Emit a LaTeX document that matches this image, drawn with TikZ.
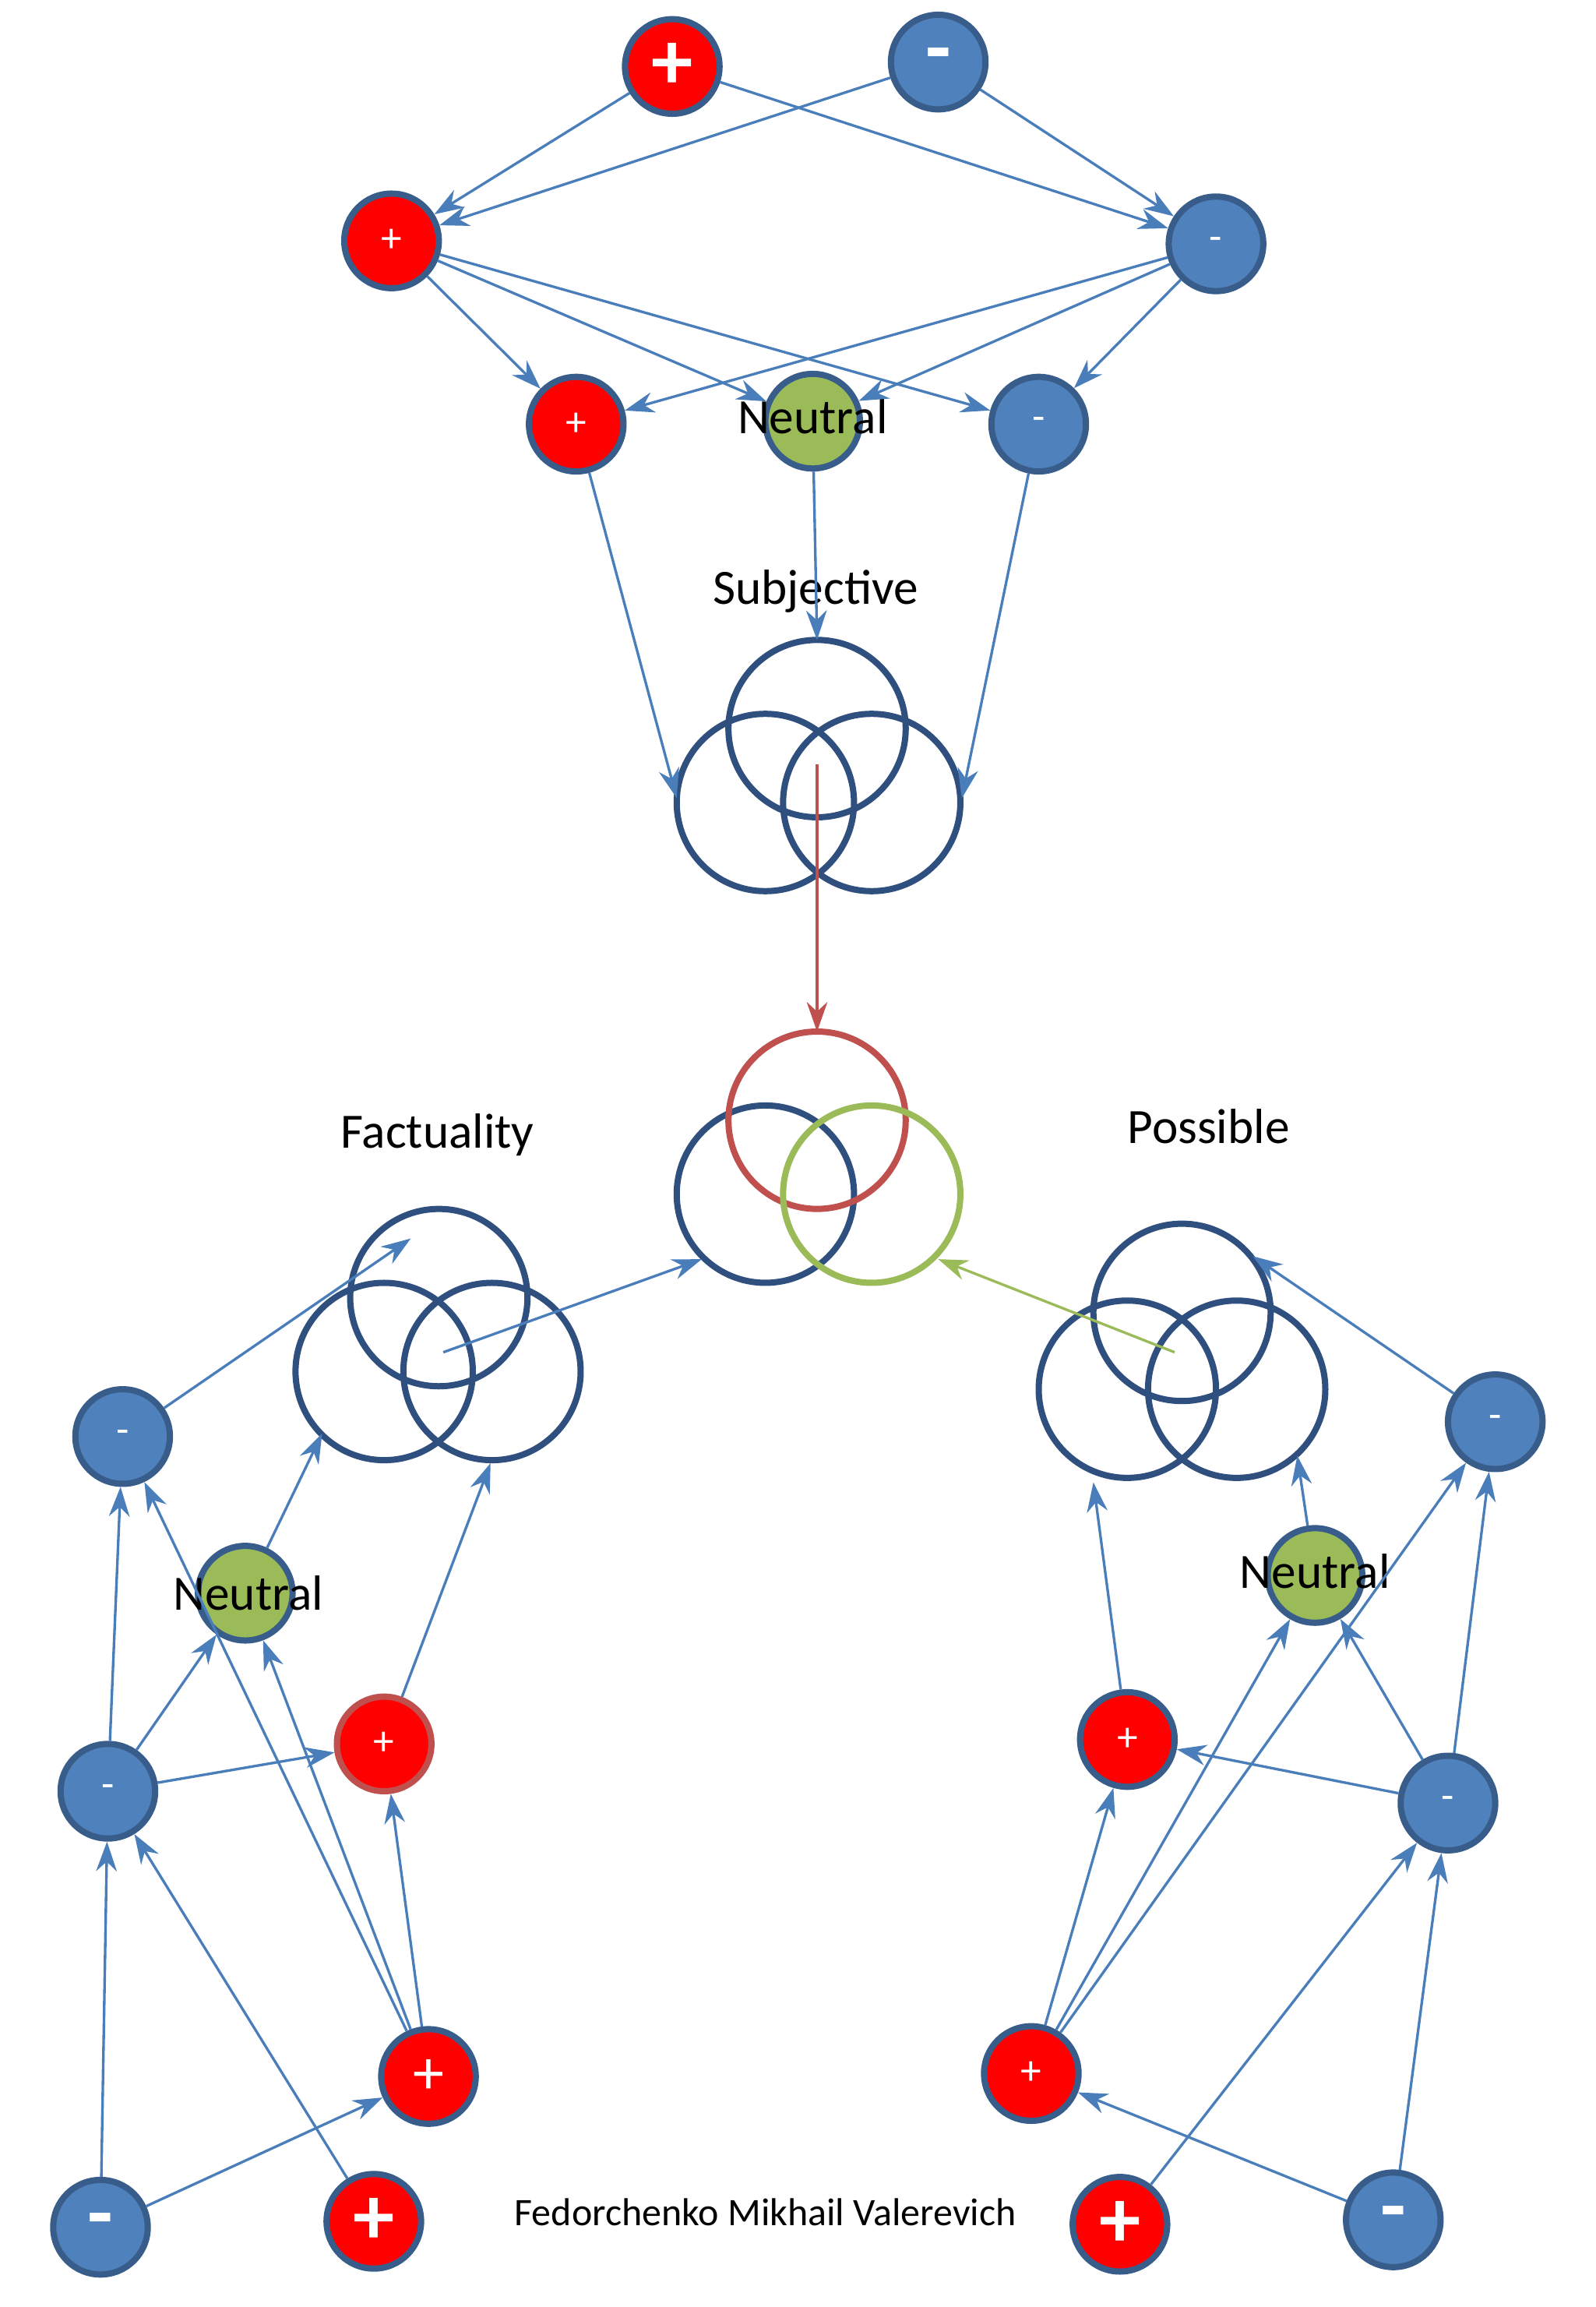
\documentclass[tikz,border=0pt]{standalone}
\usepackage{fontspec}
\setmainfont{Carlito}
\usetikzlibrary{arrows.meta}
\definecolor{bfill}{HTML}{4F81BD}
\definecolor{bline}{HTML}{385D8A}
\definecolor{gfill}{HTML}{9BBB59}
\definecolor{eline}{HTML}{4A7EBB}
\definecolor{vline}{HTML}{2F4F7F}
\definecolor{rline}{HTML}{C0504D}
\begin{document}
\begin{tikzpicture}[x=0.1mm,y=-0.1mm,
 base/.style={circle,draw=bline,line width=1.2pt,minimum size=6.4mm,inner sep=0pt,text=white,font=\fontsize{8}{9}\selectfont},
 pnode/.style={base,fill=red},
 mnode/.style={base,fill=bfill},
 nnode/.style={base,fill=gfill},
 big/.style={font=\bfseries\fontsize{16}{16}\selectfont},
 lab/.style={font=\fontsize{9.5}{11}\selectfont,text=black},
 ven/.style={draw=vline,line width=1.2pt},
 e/.style={draw=eline,line width=0.5pt,-{Stealth[length=2mm,width=1.4mm]}}]
\useasboundingbox (0,0) rectangle (1080,1561);
% top
\node[pnode,big] (P0) at (455,45) {+};
\node[mnode,big] (M0) at (635,42) {-};
\node[pnode] (P1) at (265,163) {+};
\node[mnode] (M1) at (823,165) {-};
\node[pnode] (P2) at (390,287) {+};
\node[nnode] (N2) at (550,285) {};
\node[mnode] (M2) at (703,287) {-};
\node[lab] (tN2) at (550,282) {Neutral};
\node[lab] (tS) at (552,400) {Subjective};
% venn S
\draw[ven] (553,493) circle (60) (518,543) circle (60) (590,543) circle (60);
\coordinate (Sl) at (458,540); \coordinate (St) at (553,433); \coordinate (Sr) at (651,540);
\coordinate (Sc) at (553,517); \coordinate (Ct) at (553,698);
% middle venn
\draw[ven] (518,808) circle (60);
\draw[rline,line width=1.2pt] (553,758) circle (60);
\draw[gfill,line width=1.2pt] (590,808) circle (60);
% F and P venn
\node[lab] (tF) at (296,768) {Factuality};
\draw[ven] (297,878) circle (60) (260,928) circle (60) (333,928) circle (60);
\node[lab] (tP) at (818,762) {Possible};
\draw[ven] (800,888) circle (60) (763,940) circle (60) (837,940) circle (60);
\coordinate (Fc) at (300,915); \coordinate (Ci) at (475,852);
\coordinate (Pc) at (795,915); \coordinate (Cg) at (635,852);
\coordinate (Ft) at (278,838); \coordinate (Fl) at (218,970); \coordinate (Fr) at (332,990);
\coordinate (Pt) at (848,850); \coordinate (Pr) at (878,985); \coordinate (Pl) at (740,1003);
% left bottom
\node[mnode] (ML1) at (83,972) {-};
\node[nnode] (NL) at (166,1078) {};
\node[lab] (tNL) at (168,1078) {Neutral};
\node[pnode,draw=rline] (PL) at (260,1180) {+};
\node[mnode] (ML2) at (73,1212) {-};
\node[pnode,font=\fontsize{12}{12}\selectfont] (PL3) at (290,1405) {+};
\node[mnode,big] (ML4) at (68,1507) {-};
\node[pnode,big] (PL4) at (253,1503) {+};
% right bottom
\node[mnode] (MR1) at (1012,962) {-};
\node[nnode] (NR) at (890,1066) {};
\node[lab] (tNR) at (890,1063) {Neutral};
\node[pnode] (PR) at (763,1177) {+};
\node[mnode] (MR2) at (980,1220) {-};
\node[pnode] (PR3) at (698,1403) {+};
\node[pnode,big] (PR4) at (758,1505) {+};
\node[mnode,big] (MR4) at (943,1502) {-};
\node[font=\fontsize{7.5}{9}\selectfont] (ft) at (518,1497) {Fedorchenko Mikhail Valerevich};
% edges top
\draw[e] (P0)--(P1); \draw[e] (P0)--(M1); \draw[e] (M0)--(P1); \draw[e] (M0)--(M1);
\foreach \a in {P1,M1}{\foreach \b in {P2,N2,M2}{\draw[e] (\a)--(\b);}}
\draw[e] (P2)--(Sl); \draw[e] (N2)--(St); \draw[e] (M2)--(Sr);
\draw[rline,line width=0.5pt,-{Stealth[length=2mm,width=1.4mm]}] (Sc)--(Ct);
\draw[e] (Fc)--(Ci);
\draw[gfill,line width=0.5pt,-{Stealth[length=2mm,width=1.4mm]}] (Pc)--(Cg);
% left
\draw[e] (ML1)--(Ft); \draw[e] (NL)--(Fl); \draw[e] (PL)--(Fr);
\draw[e] (ML2)--(ML1); \draw[e] (ML2)--(NL); \draw[e] (ML2)--(PL);
\draw[e] (PL3)--(ML1); \draw[e] (PL3)--(NL); \draw[e] (PL3)--(PL);
\draw[e] (ML4)--(ML2); \draw[e] (ML4)--(PL3); \draw[e] (PL4)--(ML2);
% right
\draw[e] (MR1)--(Pt); \draw[e] (NR)--(Pr); \draw[e] (PR)--(Pl);
\draw[e] (MR2)--(MR1); \draw[e] (MR2)--(NR); \draw[e] (MR2)--(PR);
\draw[e] (PR3)--(PR); \draw[e] (PR3)--(NR); \draw[e] (PR3)--(MR1);
\draw[e] (MR4)--(MR2); \draw[e] (MR4)--(PR3); \draw[e] (PR4)--(MR2);
\end{tikzpicture}
\end{document}
